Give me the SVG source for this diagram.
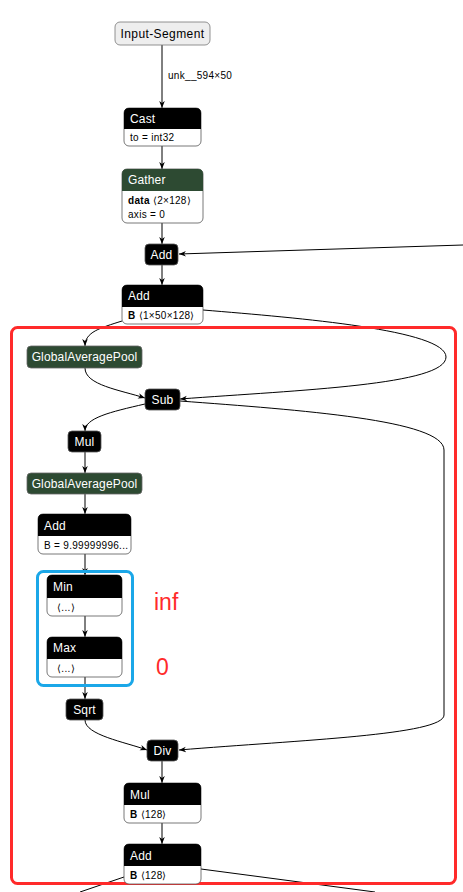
<svg xmlns="http://www.w3.org/2000/svg" width="463" height="892" viewBox="0 0 463 892">
<defs>
<marker id="arr" viewBox="0 0 10 10" refX="10" refY="5" markerWidth="7" markerHeight="7" orient="auto" markerUnits="userSpaceOnUse">
<path d="M0,1 L10,5 L0,9 L3,5 Z" fill="#000"/>
</marker>
<style>
.t{font-family:"Liberation Sans",Arial,sans-serif;font-size:12px;letter-spacing:0.15px;fill:#fff}
.a{font-family:"Liberation Sans",Arial,sans-serif;font-size:10px;letter-spacing:0.3px;fill:#000}
.b{font-weight:bold}
.e{fill:none;stroke:#000;stroke-width:1;marker-end:url(#arr)}
.en{fill:none;stroke:#000;stroke-width:1}
.hd{fill:#000}
.gr{fill:#2d4a32;stroke:#666;stroke-width:0.8}
.bk{fill:#000;stroke:#555;stroke-width:0.8}
.bd{fill:#fff;stroke:#555;stroke-width:0.8}
</style>
</defs>
<rect width="463" height="892" fill="#fff"/>
<g id="connectors">
<path class="e" d="M162,45 L162,108"/>
<path class="e" d="M162,146 L162,169"/>
<path class="e" d="M162,223 L162,244"/>
<path class="e" d="M463,245 L179,254"/>
<path class="e" d="M162,265 L162,285"/>
<path class="e" d="M122,321 C100,328 85,332 85,346"/>
<path class="e" d="M203,310 C300,318 446,330 446,357 C446,385 300,390 180,399"/>
<path class="e" d="M85,368 C85,385 120,390 145,398"/>
<path class="e" d="M145,404 C110,412 85,418 85,431"/>
<path class="e" d="M180,401 C300,410 444,420 444,450 L444,715 C444,735 300,740 179,750"/>
<path class="e" d="M85,452 L85,473"/>
<path class="e" d="M85,494 L85,514"/>
<path class="e" d="M85,554 L85,575"/>
<path class="e" d="M85,616 L85,637"/>
<path class="e" d="M85,677 L85,699"/>
<path class="e" d="M85,720 C85,735 125,742 147,750"/>
<path class="e" d="M162,761 L162,783"/>
<path class="e" d="M162,823 L162,844"/>
<path class="en" d="M124,877 L80,892"/>
<path class="en" d="M201,869 L375,892"/>
<text class="a" x="168" y="79">unk__594×50</text>
</g>
<g id="input-segment">
<rect x="115" y="22" width="95" height="23" rx="5" fill="#eee" stroke="#777" stroke-width="0.8"/>
<text class="t" x="162.5" y="38" text-anchor="middle" style="fill:#000;letter-spacing:0.4px">Input-Segment</text>
</g>
<g id="cast">
<rect class="bd" x="124" y="108" width="77" height="38" rx="5"/>
<path class="hd" d="M124,129 L124,113 Q124,108 129,108 L196,108 Q201,108 201,113 L201,129 Z"/>
<text class="t" x="130" y="123">Cast</text>
<text class="a" x="130" y="141">to = int32</text>
</g>
<g id="gather">
<rect class="bd" x="122" y="169" width="81" height="54" rx="5"/>
<path d="M122,191 L122,174 Q122,169 127,169 L198,169 Q203,169 203,174 L203,191 Z" fill="#2d4a32"/>
<text class="t" x="128" y="184">Gather</text>
<text class="a" x="128" y="204"><tspan class="b">data</tspan> ⟨2×128⟩</text>
<text class="a" x="128" y="218">axis = 0</text>
</g>
<g id="add1">
<rect class="bk" x="145" y="244" width="33" height="21" rx="4"/>
<text class="t" x="161.5" y="259" text-anchor="middle">Add</text>
</g>
<g id="add2">
<rect class="bd" x="122" y="285" width="81" height="39" rx="5"/>
<path class="hd" d="M122,307 L122,290 Q122,285 127,285 L198,285 Q203,285 203,290 L203,307 Z"/>
<text class="t" x="128" y="300">Add</text>
<text class="a" x="128" y="319"><tspan class="b">B</tspan> ⟨1×50×128⟩</text>
</g>
<g id="red-box">
<rect x="11.5" y="327.5" width="444" height="556" rx="6" fill="none" stroke="#ff2a2a" stroke-width="3"/>
</g>
<g id="gap1">
<rect class="gr" x="27" y="346" width="115" height="22" rx="4"/>
<text class="t" x="84.5" y="361" text-anchor="middle">GlobalAveragePool</text>
</g>
<g id="sub">
<rect class="bk" x="145" y="389" width="35" height="21" rx="4"/>
<text class="t" x="162.5" y="404" text-anchor="middle">Sub</text>
</g>
<g id="mul1">
<rect class="bk" x="68" y="431" width="33" height="21" rx="4"/>
<text class="t" x="84.5" y="446" text-anchor="middle">Mul</text>
</g>
<g id="gap2">
<rect class="gr" x="27" y="473" width="115" height="21" rx="4"/>
<text class="t" x="84.5" y="488" text-anchor="middle">GlobalAveragePool</text>
</g>
<g id="add3">
<rect class="bd" x="38" y="514" width="93" height="40" rx="5"/>
<path class="hd" d="M38,536 L38,519 Q38,514 43,514 L126,514 Q131,514 131,519 L131,536 Z"/>
<text class="t" x="44" y="530">Add</text>
<text class="a" x="44" y="549">B = 9.99999996...</text>
</g>
<g id="blue-box">
<rect x="37.5" y="571.5" width="95" height="114" rx="6" fill="none" stroke="#1ba7e8" stroke-width="3"/>
</g>
<g id="min">
<rect class="bd" x="47" y="575" width="75" height="41" rx="5"/>
<path class="hd" d="M47,598 L47,580 Q47,575 52,575 L117,575 Q122,575 122,580 L122,598 Z"/>
<text class="t" x="53" y="591">Min</text>
<text class="a" x="57" y="611">⟨...⟩</text>
</g>
<g id="max">
<rect class="bd" x="47" y="637" width="75" height="40" rx="5"/>
<path class="hd" d="M47,659 L47,642 Q47,637 52,637 L117,637 Q122,637 122,642 L122,659 Z"/>
<text class="t" x="53" y="652">Max</text>
<text class="a" x="57" y="672">⟨...⟩</text>
</g>
<g id="labels">
<text x="154" y="610" style="font-family:'Liberation Sans',Arial,sans-serif;font-size:23px;fill:#ff2a2a">inf</text>
<text x="156" y="675" style="font-family:'Liberation Sans',Arial,sans-serif;font-size:23px;fill:#ff2a2a">0</text>
</g>
<g id="sqrt">
<rect class="bk" x="66" y="699" width="37" height="21" rx="4"/>
<text class="t" x="84.5" y="714" text-anchor="middle">Sqrt</text>
</g>
<g id="div">
<rect class="bk" x="147" y="740" width="31" height="21" rx="4"/>
<text class="t" x="162.5" y="755" text-anchor="middle">Div</text>
</g>
<g id="mul2">
<rect class="bd" x="124" y="783" width="77" height="40" rx="5"/>
<path class="hd" d="M124,805 L124,788 Q124,783 129,783 L196,783 Q201,783 201,788 L201,805 Z"/>
<text class="t" x="130" y="799">Mul</text>
<text class="a" x="130" y="818"><tspan class="b">B</tspan> ⟨128⟩</text>
</g>
<g id="add4">
<rect class="bd" x="124" y="844" width="77" height="40" rx="5"/>
<path class="hd" d="M124,866 L124,849 Q124,844 129,844 L196,844 Q201,844 201,849 L201,866 Z"/>
<text class="t" x="130" y="860">Add</text>
<text class="a" x="130" y="879"><tspan class="b">B</tspan> ⟨128⟩</text>
</g>
</svg>
